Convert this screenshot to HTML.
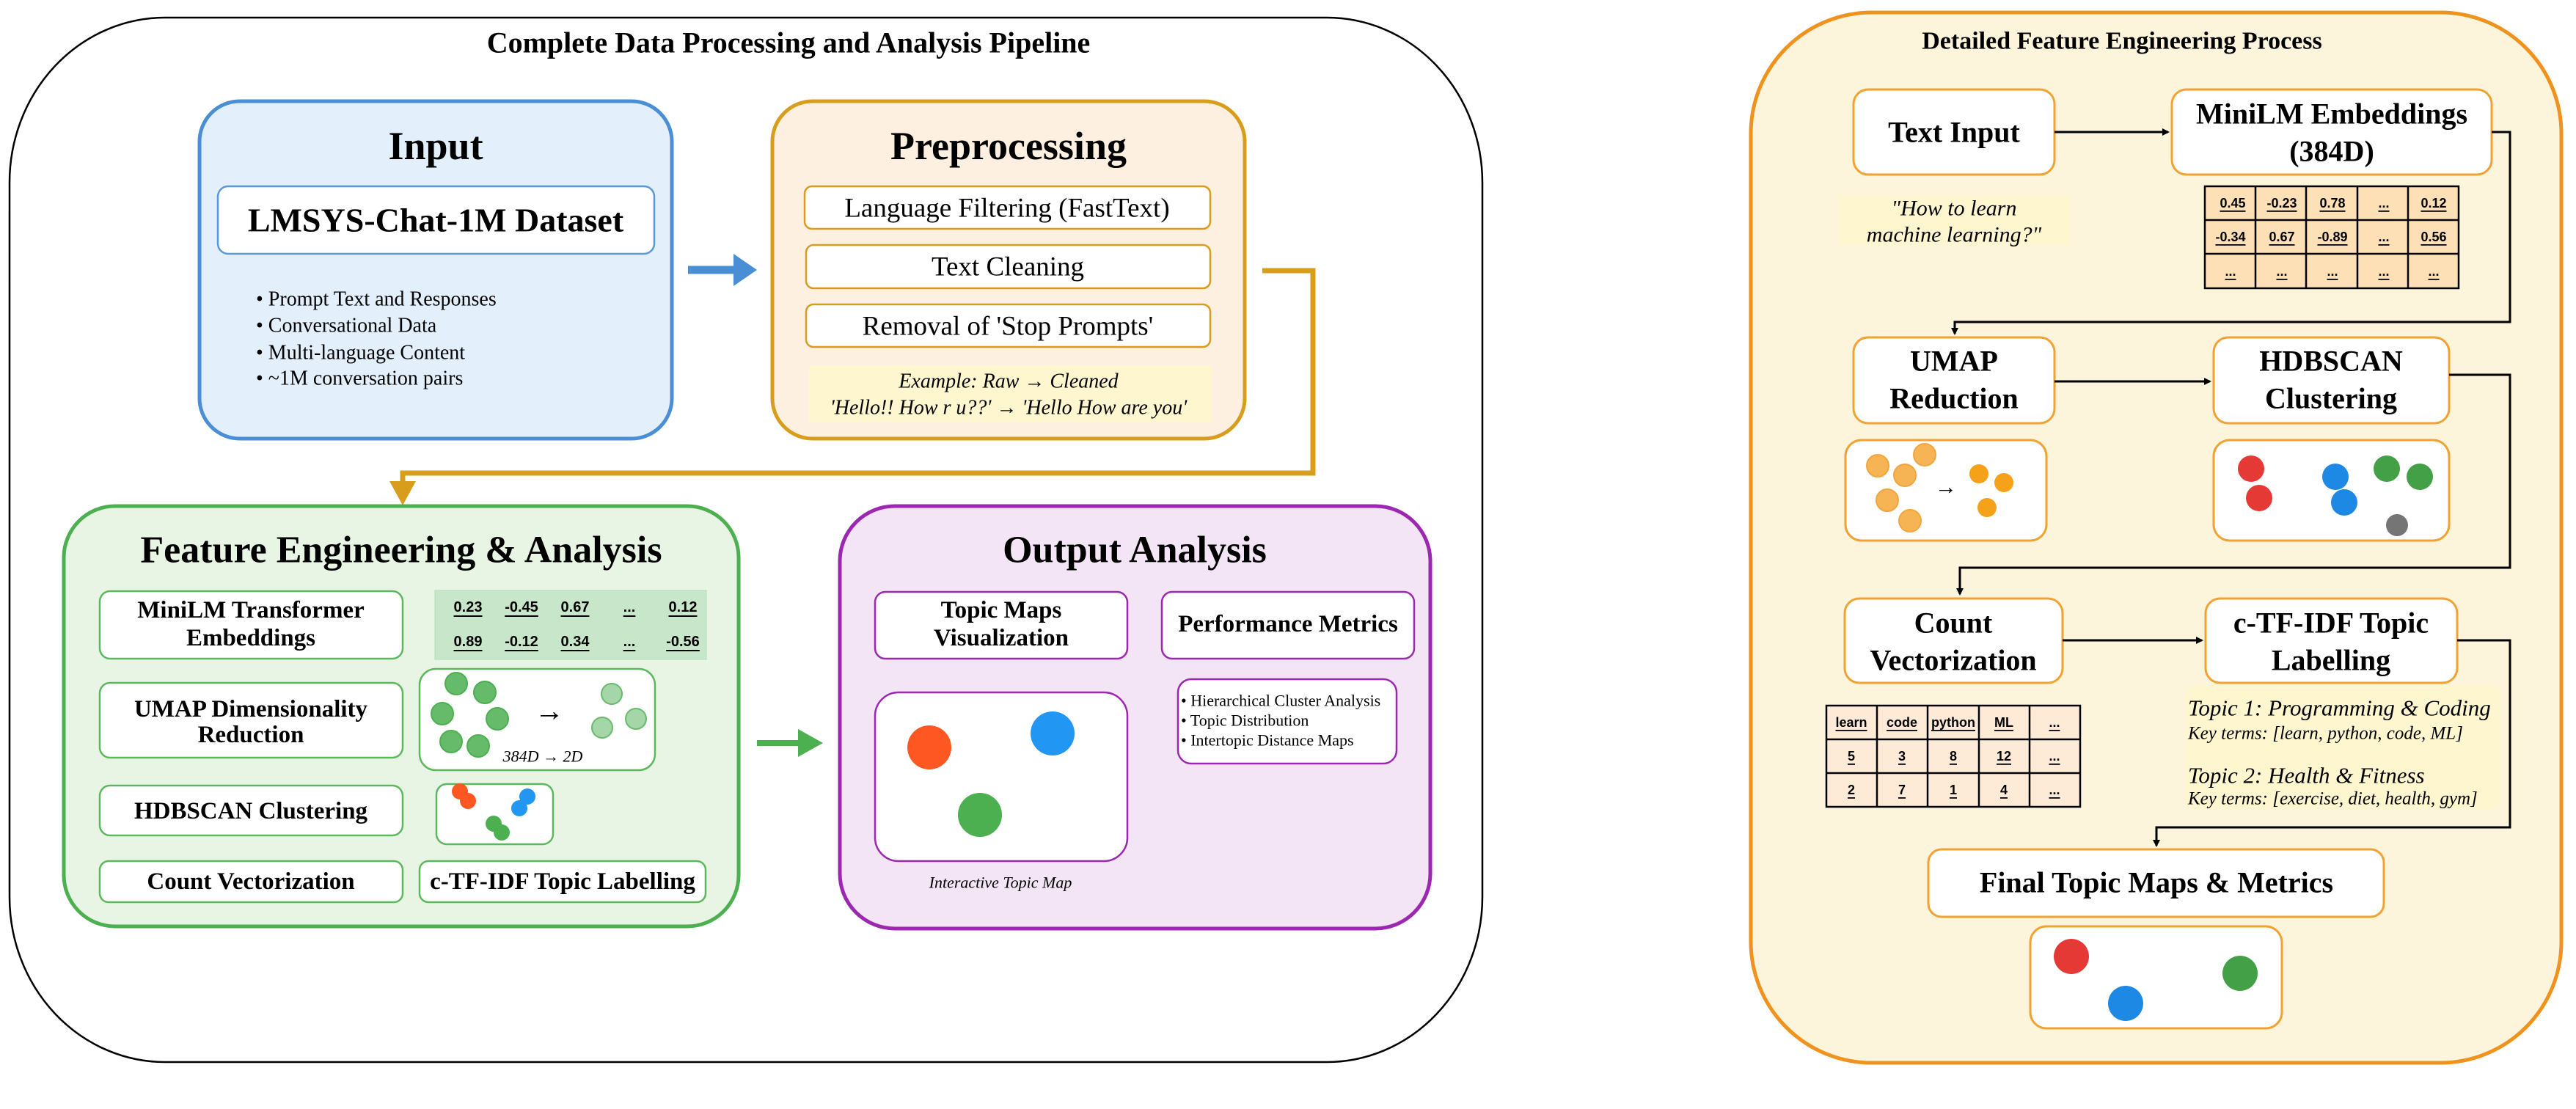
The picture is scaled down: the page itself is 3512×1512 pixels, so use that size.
<!DOCTYPE html>
<html><head><meta charset="utf-8"><style>
html,body{margin:0;padding:0;background:#fff;}
svg{display:block;}
.t{font-family:"Liberation Serif",serif;}
.s{font-family:"Liberation Sans",sans-serif;}
</style></head><body>
<svg width="3512" height="1512" viewBox="0 0 3512 1512" xmlns="http://www.w3.org/2000/svg">
<defs>
<marker id="ab" markerWidth="10" markerHeight="10" refX="8" refY="5" orient="auto" markerUnits="userSpaceOnUse"><path d="M0,0 L10,5 L0,10 z" fill="#000"/></marker>
</defs>
<g class="t" text-anchor="middle" dominant-baseline="central">
<!-- LEFT OUTER -->
<rect x="13" y="24" width="2008" height="1424" rx="212" ry="225" fill="#fff" stroke="#000" stroke-width="2.5"/>
<text x="1075" y="58" font-size="40" font-weight="bold">Complete Data Processing and Analysis Pipeline</text>

<!-- Input -->
<rect x="272" y="138" width="644" height="460" rx="55" fill="#e3effb" stroke="#4a8fd6" stroke-width="5"/>
<text x="594" y="199" font-size="54" font-weight="bold">Input</text>
<rect x="297" y="254" width="595" height="92" rx="14" fill="#fff" stroke="#5a98d8" stroke-width="2.5"/>
<text x="594" y="300" font-size="46" font-weight="bold">LMSYS-Chat-1M Dataset</text>
<g text-anchor="start" font-size="28">
<text x="349" y="408">• Prompt Text and Responses</text>
<text x="349" y="444">• Conversational Data</text>
<text x="349" y="481">• Multi-language Content</text>
<text x="349" y="516">• ~1M conversation pairs</text>
</g>
<!-- blue arrow -->
<line x1="938" y1="368" x2="1005" y2="368" stroke="#4a8fd6" stroke-width="11"/>
<path d="M1000,346 L1032,368 L1000,390 z" fill="#4a8fd6"/>

<!-- Preprocessing -->
<rect x="1053" y="138" width="644" height="460" rx="55" fill="#fdf0e1" stroke="#d89d1c" stroke-width="5"/>
<text x="1375" y="199" font-size="54" font-weight="bold">Preprocessing</text>
<rect x="1097" y="254" width="553" height="58" rx="10" fill="#fff" stroke="#d89d1c" stroke-width="2.5"/>
<text x="1373" y="284" font-size="37">Language Filtering (FastText)</text>
<rect x="1099" y="334" width="551" height="59" rx="10" fill="#fff" stroke="#d89d1c" stroke-width="2.5"/>
<text x="1374" y="364" font-size="37">Text Cleaning</text>
<rect x="1099" y="415" width="551" height="58" rx="10" fill="#fff" stroke="#d89d1c" stroke-width="2.5"/>
<text x="1374" y="445" font-size="37">Removal of 'Stop Prompts'</text>
<rect x="1103" y="498" width="549" height="78" fill="#fdf6cf"/>
<text x="1375" y="520" font-size="28" font-style="italic">Example: Raw → Cleaned</text>
<text x="1375" y="556" font-size="28" font-style="italic">'Hello!! How r u??' → 'Hello How are you'</text>
<!-- orange connector -->
<polyline points="1721,369 1790,369 1790,645 549,645 549,662" fill="none" stroke="#d89d1c" stroke-width="7"/>
<path d="M531,656 L567,656 L549,689 z" fill="#d89d1c"/>

<!-- Feature Engineering -->
<rect x="87" y="690" width="920" height="573" rx="70" fill="#e8f5e4" stroke="#4caf50" stroke-width="5"/>
<text x="547" y="750" font-size="52" font-weight="bold">Feature Engineering &amp; Analysis</text>
<g fill="#fff" stroke="#5cb85c" stroke-width="2.5">
<rect x="136" y="806" width="413" height="92" rx="14"/>
<rect x="136" y="931" width="413" height="102" rx="14"/>
<rect x="136" y="1071" width="413" height="68" rx="14"/>
<rect x="136" y="1174" width="413" height="56" rx="12"/>
<rect x="572" y="912" width="321" height="138" rx="22"/>
<rect x="595" y="1069" width="159" height="82" rx="14"/>
<rect x="572" y="1174" width="390" height="56" rx="12"/>
</g>
<g font-size="33" font-weight="bold">
<text x="342" y="832">MiniLM Transformer</text>
<text x="342" y="870">Embeddings</text>
<text x="342" y="967">UMAP Dimensionality</text>
<text x="342" y="1002">Reduction</text>
<text x="342" y="1106">HDBSCAN Clustering</text>
<text x="342" y="1202">Count Vectorization</text>
<text x="767" y="1202">c-TF-IDF Topic Labelling</text>
</g>
<rect x="593" y="805" width="370" height="94" fill="#c8e6c9" stroke="#b5d9b6" stroke-width="1"/>
<g class="s" font-size="20" font-weight="bold" text-decoration="underline">
<text x="638" y="828">0.23</text><text x="711" y="828">-0.45</text><text x="784" y="828">0.67</text><text x="858" y="828">...</text><text x="931" y="828">0.12</text>
<text x="638" y="875">0.89</text><text x="711" y="875">-0.12</text><text x="784" y="875">0.34</text><text x="858" y="875">...</text><text x="931" y="875">-0.56</text>
</g>
<g fill="#66bb6a" stroke="#4caf50" stroke-width="2">
<circle cx="622" cy="932" r="15"/><circle cx="661" cy="944" r="15"/><circle cx="603" cy="973" r="15"/>
<circle cx="678" cy="980" r="15"/><circle cx="615" cy="1011" r="15"/><circle cx="652" cy="1017" r="15"/>
</g>
<g fill="#a5d6a7" stroke="#66bb6a" stroke-width="2">
<circle cx="834" cy="946" r="14"/><circle cx="821" cy="992" r="14"/><circle cx="867" cy="980" r="14"/>
</g>
<text x="749" y="969" font-size="40">→</text>
<text x="740" y="1031" font-size="22" font-style="italic">384D → 2D</text>
<circle cx="627" cy="1079" r="11" fill="#ff5722"/><circle cx="638" cy="1092" r="11" fill="#ff5722"/>
<circle cx="719" cy="1086" r="11" fill="#2196f3"/><circle cx="708" cy="1102" r="11" fill="#2196f3"/>
<circle cx="673" cy="1123" r="11" fill="#4caf50"/><circle cx="684" cy="1135" r="11" fill="#4caf50"/>
<!-- green arrow -->
<line x1="1032" y1="1013" x2="1095" y2="1013" stroke="#4caf50" stroke-width="8"/>
<path d="M1088,994 L1122,1013 L1088,1032 z" fill="#4caf50"/>

<!-- Output Analysis -->
<rect x="1145" y="690" width="805" height="576" rx="75" fill="#f3e5f5" stroke="#9c27b0" stroke-width="5"/>
<text x="1547" y="750" font-size="52" font-weight="bold">Output Analysis</text>
<g fill="#fff" stroke="#9c27b0" stroke-width="2.5">
<rect x="1193" y="807" width="344" height="91" rx="14"/>
<rect x="1584" y="807" width="344" height="91" rx="14"/>
<rect x="1193" y="944" width="344" height="230" rx="32"/>
<rect x="1606" y="926" width="298" height="115" rx="18"/>
</g>
<g font-size="33" font-weight="bold">
<text x="1365" y="832">Topic Maps</text>
<text x="1365" y="870">Visualization</text>
<text x="1756" y="851">Performance Metrics</text>
</g>
<circle cx="1267" cy="1019" r="30" fill="#ff5722"/>
<circle cx="1435" cy="1000" r="30" fill="#2196f3"/>
<circle cx="1336" cy="1111" r="30" fill="#4caf50"/>
<text x="1364" y="1203" font-size="22" font-style="italic">Interactive Topic Map</text>
<g text-anchor="start" font-size="22">
<text x="1610" y="955">• Hierarchical Cluster Analysis</text>
<text x="1610" y="982">• Topic Distribution</text>
<text x="1610" y="1009">• Intertopic Distance Maps</text>
</g>

<!-- RIGHT PANEL -->
<rect x="2387" y="17" width="1105" height="1432" rx="165" fill="#fdf4dc" stroke="#f0931e" stroke-width="5"/>
<text x="2893" y="56" font-size="34" font-weight="bold">Detailed Feature Engineering Process</text>
<g fill="#fff" stroke="#f0a232" stroke-width="3">
<rect x="2527" y="122" width="274" height="116" rx="20"/>
<rect x="2961" y="122" width="436" height="116" rx="20"/>
<rect x="2527" y="460" width="274" height="117" rx="20"/>
<rect x="3018" y="460" width="321" height="117" rx="20"/>
<rect x="2516" y="600" width="274" height="137" rx="22"/>
<rect x="3018" y="600" width="321" height="137" rx="22"/>
<rect x="2515" y="816" width="297" height="115" rx="20"/>
<rect x="3007" y="816" width="343" height="115" rx="20"/>
<rect x="2629" y="1158" width="621" height="92" rx="18"/>
<rect x="2768" y="1263" width="343" height="139" rx="22"/>
</g>
<g font-size="40" font-weight="bold">
<text x="2664" y="180">Text Input</text>
<text x="3179" y="155">MiniLM Embeddings</text>
<text x="3179" y="206">(384D)</text>
<text x="2664" y="492">UMAP</text>
<text x="2664" y="543">Reduction</text>
<text x="3178" y="492">HDBSCAN</text>
<text x="3178" y="543">Clustering</text>
<text x="2663" y="849">Count</text>
<text x="2663" y="900">Vectorization</text>
<text x="3178" y="849">c-TF-IDF Topic</text>
<text x="3178" y="900">Labelling</text>
<text x="2940" y="1203">Final Topic Maps &amp; Metrics</text>
</g>
<rect x="2506" y="267" width="316" height="67" fill="#fdf6cf"/>
<text x="2664" y="284" font-size="30" font-style="italic">"How to learn</text>
<text x="2664" y="320" font-size="30" font-style="italic">machine learning?"</text>
<!-- connectors -->
<g fill="none" stroke="#000" stroke-width="3">
<line x1="2801" y1="180" x2="2956" y2="180" marker-end="url(#ab)"/>
<polyline points="3397,180 3422,180 3422,439 2665,439 2665,455" marker-end="url(#ab)"/>
<line x1="2801" y1="520" x2="3013" y2="520" marker-end="url(#ab)"/>
<polyline points="3339,511 3422,511 3422,774 2672,774 2672,810" marker-end="url(#ab)"/>
<line x1="2812" y1="873" x2="3002" y2="873" marker-end="url(#ab)"/>
<polyline points="3350,873 3422,873 3422,1128 2940,1128 2940,1153" marker-end="url(#ab)"/>
</g>
<!-- embedding table -->
<g fill="#fde0b6" stroke="#000" stroke-width="2.5">
<rect x="3006" y="254" width="346" height="139"/>
</g>
<g stroke="#000" stroke-width="2.5">
<line x1="3075" y1="254" x2="3075" y2="393"/><line x1="3144" y1="254" x2="3144" y2="393"/>
<line x1="3214" y1="254" x2="3214" y2="393"/><line x1="3283" y1="254" x2="3283" y2="393"/>
<line x1="3006" y1="300" x2="3352" y2="300"/><line x1="3006" y1="346" x2="3352" y2="346"/>
</g>
<g class="s" font-size="18" font-weight="bold" text-decoration="underline">
<text x="3044" y="277">0.45</text><text x="3111" y="277">-0.23</text><text x="3180" y="277">0.78</text><text x="3250" y="277">...</text><text x="3318" y="277">0.12</text>
<text x="3041" y="323">-0.34</text><text x="3111" y="323">0.67</text><text x="3180" y="323">-0.89</text><text x="3250" y="323">...</text><text x="3318" y="323">0.56</text>
<text x="3041" y="370">...</text><text x="3111" y="370">...</text><text x="3180" y="370">...</text><text x="3250" y="370">...</text><text x="3318" y="370">...</text>
</g>
<!-- count table -->
<rect x="2490" y="962" width="346" height="138" fill="#fdebd8" stroke="#000" stroke-width="2.5"/>
<g stroke="#000" stroke-width="2.5">
<line x1="2559" y1="962" x2="2559" y2="1100"/><line x1="2628" y1="962" x2="2628" y2="1100"/>
<line x1="2698" y1="962" x2="2698" y2="1100"/><line x1="2767" y1="962" x2="2767" y2="1100"/>
<line x1="2490" y1="1008" x2="2836" y2="1008"/><line x1="2490" y1="1054" x2="2836" y2="1054"/>
</g>
<g class="s" font-size="18" font-weight="bold" text-decoration="underline">
<text x="2524" y="985">learn</text><text x="2593" y="985">code</text><text x="2663" y="985">python</text><text x="2732" y="985">ML</text><text x="2801" y="985">...</text>
<text x="2524" y="1031">5</text><text x="2593" y="1031">3</text><text x="2663" y="1031">8</text><text x="2732" y="1031">12</text><text x="2801" y="1031">...</text>
<text x="2524" y="1077">2</text><text x="2593" y="1077">7</text><text x="2663" y="1077">1</text><text x="2732" y="1077">4</text><text x="2801" y="1077">...</text>
</g>
<!-- topic text -->
<rect x="2979" y="934" width="430" height="169" rx="12" fill="#fdf6cf"/>
<g text-anchor="start" font-style="italic">
<text x="2983" y="965" font-size="31">Topic 1: Programming &amp; Coding</text>
<text x="2983" y="1000" font-size="25">Key terms: [learn, python, code, ML]</text>
<text x="2983" y="1057" font-size="31">Topic 2: Health &amp; Fitness</text>
<text x="2983" y="1089" font-size="25">Key terms: [exercise, diet, health, gym]</text>
</g>
<!-- UMAP viz -->
<g fill="#f7b04c" stroke="#f0a232" stroke-width="2" opacity="0.95">
<circle cx="2560" cy="635" r="15"/><circle cx="2624" cy="620" r="15"/><circle cx="2597" cy="648" r="15"/>
<circle cx="2573" cy="682" r="15"/><circle cx="2604" cy="710" r="15"/>
</g>
<g fill="#f5a11a">
<circle cx="2698" cy="646" r="13"/><circle cx="2732" cy="658" r="13"/><circle cx="2709" cy="692" r="13"/>
</g>
<text x="2653" y="664" font-size="30">→</text>
<!-- HDBSCAN viz -->
<circle cx="3069" cy="639" r="18" fill="#e53935"/><circle cx="3080" cy="679" r="18" fill="#e53935"/>
<circle cx="3184" cy="650" r="18" fill="#1e88e5"/><circle cx="3196" cy="685" r="18" fill="#1e88e5"/>
<circle cx="3254" cy="639" r="18" fill="#43a047"/><circle cx="3299" cy="650" r="18" fill="#43a047"/>
<circle cx="3268" cy="716" r="15" fill="#757575"/>
<!-- final viz -->
<circle cx="2824" cy="1304" r="24" fill="#e53935"/>
<circle cx="2898" cy="1368" r="24" fill="#1e88e5"/>
<circle cx="3054" cy="1327" r="24" fill="#43a047"/>
</g>
</svg>
</body></html>
